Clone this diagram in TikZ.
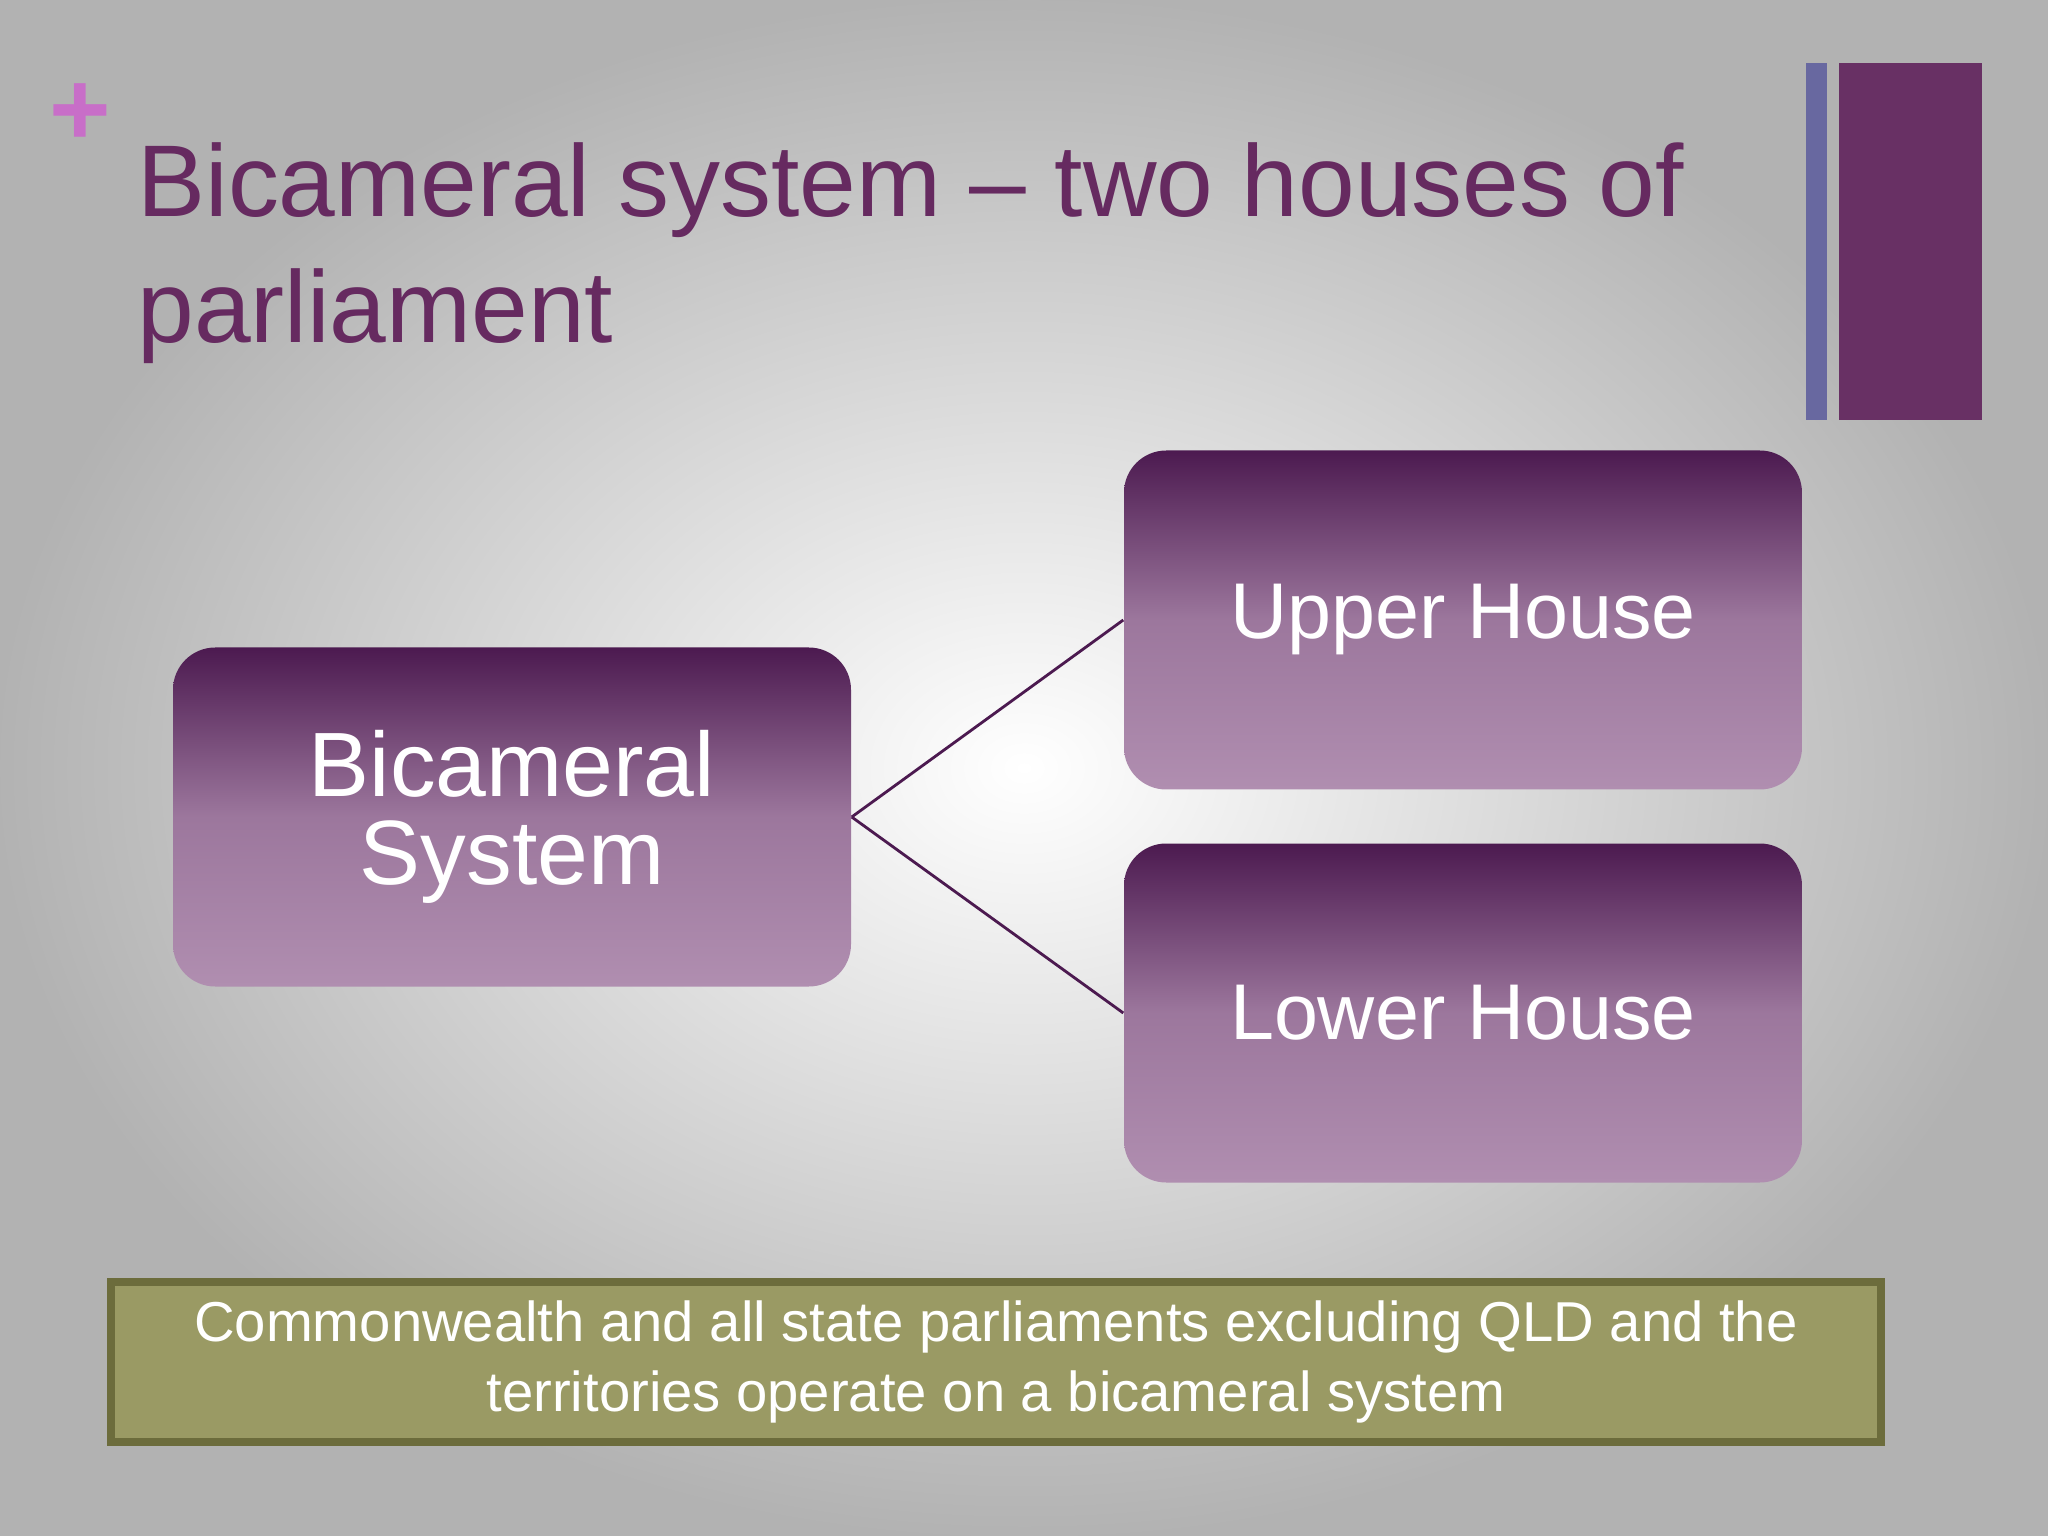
\documentclass[tikz,border=0pt]{standalone}
\usepackage{fontspec}
\setmainfont{Liberation Sans}
\usetikzlibrary{positioning}
\definecolor{titlepurple}{RGB}{102,42,96}
\definecolor{darkpurple}{RGB}{76,26,80}
\definecolor{lightpurple}{RGB}{176,142,176}
\definecolor{barblue}{RGB}{104,104,160}
\definecolor{barpurple}{RGB}{104,48,100}
\definecolor{olivefill}{RGB}{154,154,100}
\definecolor{olivedraw}{RGB}{108,108,60}
\definecolor{plumpink}{RGB}{200,110,200}
\tikzset{
  housebox/.style={rounded corners=12pt, minimum width=6.78cm, minimum height=3.39cm,
    top color=darkpurple, bottom color=lightpurple, middle color=lightpurple!80!darkpurple,
    text=white, align=center, font=\fontsize{26}{29}\selectfont},
  link/.style={draw=darkpurple, line width=0.8pt}
}
\begin{document}
\begin{tikzpicture}
  % background
  \shade[inner color=white, outer color=black!30] (0,0) rectangle (20.48,-15.36);
  \useasboundingbox (0,0) rectangle (20.48,-15.36);
  % plus sign and bars
  \node[text=plumpink, font=\bfseries\fontsize{30}{30}\selectfont] (plus) at (0.8,-1.15) {+};
  \fill[barblue] (18.06,-0.63) rectangle (18.27,-4.2);
  \fill[barpurple] (18.39,-0.63) rectangle (19.82,-4.2);
  % title
  \node[anchor=north west, text=titlepurple, align=left, font=\fontsize{29}{36}\selectfont]
    (title) at (1.25,-1.3) {Bicameral system -- two houses of\\parliament};
  % boxes
  \node[housebox] (bicam) at (5.12,-8.17) {Bicameral\\[-4pt]System};
  \node[housebox, font=\fontsize{22.5}{26}\selectfont] (upper) at (14.63,-6.2) {Upper House};
  \node[housebox, font=\fontsize{22.5}{26}\selectfont] (lower) at (14.63,-10.13) {Lower House};
  \draw[link] (bicam.east) -- (upper.west);
  \draw[link] (bicam.east) -- (lower.west);
  % note
  \node[draw=olivedraw, line width=2pt, fill=olivefill, minimum width=17.7cm, minimum height=1.6cm,
    text=white, align=center, font=\fontsize{16}{20}\selectfont] (note) at (9.96,-13.62)
    {Commonwealth and all state parliaments excluding QLD and the\\territories operate on a bicameral system};
\end{tikzpicture}
\end{document}
